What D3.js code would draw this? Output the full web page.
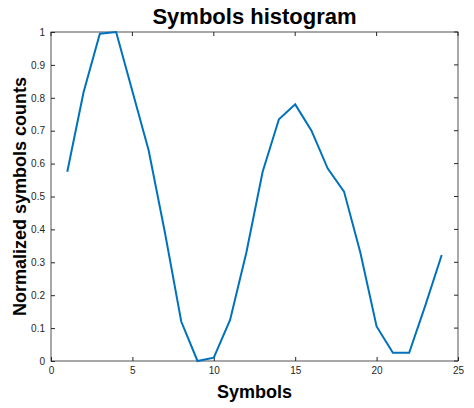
<!DOCTYPE html>
<meta charset="utf-8">
<script src="https://d3js.org/d3.v7.min.js"></script>
<style>body{margin:0;background:#fff;font-family:"Liberation Sans",Arial,sans-serif}</style>
<div id="viz"></div>
<script>
// symbol index and normalized counts
var symbols = d3.range(1, 25);
var counts = [0.575, 0.817, 0.995, 1.0, 0.82, 0.64, 0.39, 0.12, 0.0, 0.01, 0.125, 0.33,
              0.575, 0.735, 0.78, 0.70, 0.585, 0.515, 0.33, 0.105, 0.025, 0.025, 0.17, 0.322];
var xTicks = [0, 5, 10, 15, 20, 25];
var yTicks = d3.range(0, 11).map(d => d / 10);

var margin = {top: 32, right: 16, bottom: 47, left: 51},
    width = 474 - margin.left - margin.right,
    height = 408 - margin.top - margin.bottom;

var root = d3.select("#viz").append("svg").attr("width", 474).attr("height", 408);
var svg = root.append("g").attr("transform", "translate(" + margin.left + "," + margin.top + ")");

var x = d3.scaleLinear().domain([0, 25]).range([0, width]);
var y = d3.scaleLinear().domain([0, 1]).range([height, 0]);

// box
svg.append("rect").attr("width", width).attr("height", height)
  .attr("fill", "none").attr("stroke", "#262626").attr("stroke-width", 0.8);

var xa = svg.append("g").attr("transform", "translate(0," + height + ")")
  .call(d3.axisBottom(x).tickValues(xTicks).tickSize(-4).tickPadding(6));
var ya = svg.append("g")
  .call(d3.axisLeft(y).tickValues(yTicks).tickSize(-4).tickPadding(6).tickFormat(d3.format("~g")));
[xa, ya].forEach(a => {
  a.select(".domain").remove();
  a.selectAll("line").attr("stroke", "#262626");
  a.selectAll("text").attr("fill", "#262626").style("font-size", "10px").style("font-family", "Liberation Sans, Arial");
});
// top/right ticks
svg.append("g").selectAll("line").data(xTicks).enter().append("line")
  .attr("x1", d => x(d)).attr("x2", d => x(d)).attr("y1", 0).attr("y2", 4).attr("stroke", "#262626");
svg.append("g").selectAll("line").data(yTicks).enter().append("line")
  .attr("x1", width).attr("x2", width - 4).attr("y1", d => y(d)).attr("y2", d => y(d)).attr("stroke", "#262626");

svg.append("path").datum(symbols)
  .attr("fill", "none").attr("stroke", "#0072BD").attr("stroke-width", 2)
  .attr("d", d3.line().x(d => x(d)).y((d, i) => y(counts[i])));

root.append("text").attr("x", margin.left + width / 2).attr("y", 24).attr("text-anchor", "middle")
  .style("font-weight", "bold").style("font-size", "22px").text("Symbols histogram");
root.append("text").attr("x", margin.left + width / 2).attr("y", 398).attr("text-anchor", "middle")
  .style("font-weight", "bold").style("font-size", "18px").text("Symbols");
root.append("text").attr("transform", "translate(26," + (margin.top + height / 2) + ") rotate(-90)")
  .attr("text-anchor", "middle").style("font-weight", "bold").style("font-size", "18px")
  .text("Normalized symbols counts");
</script>
